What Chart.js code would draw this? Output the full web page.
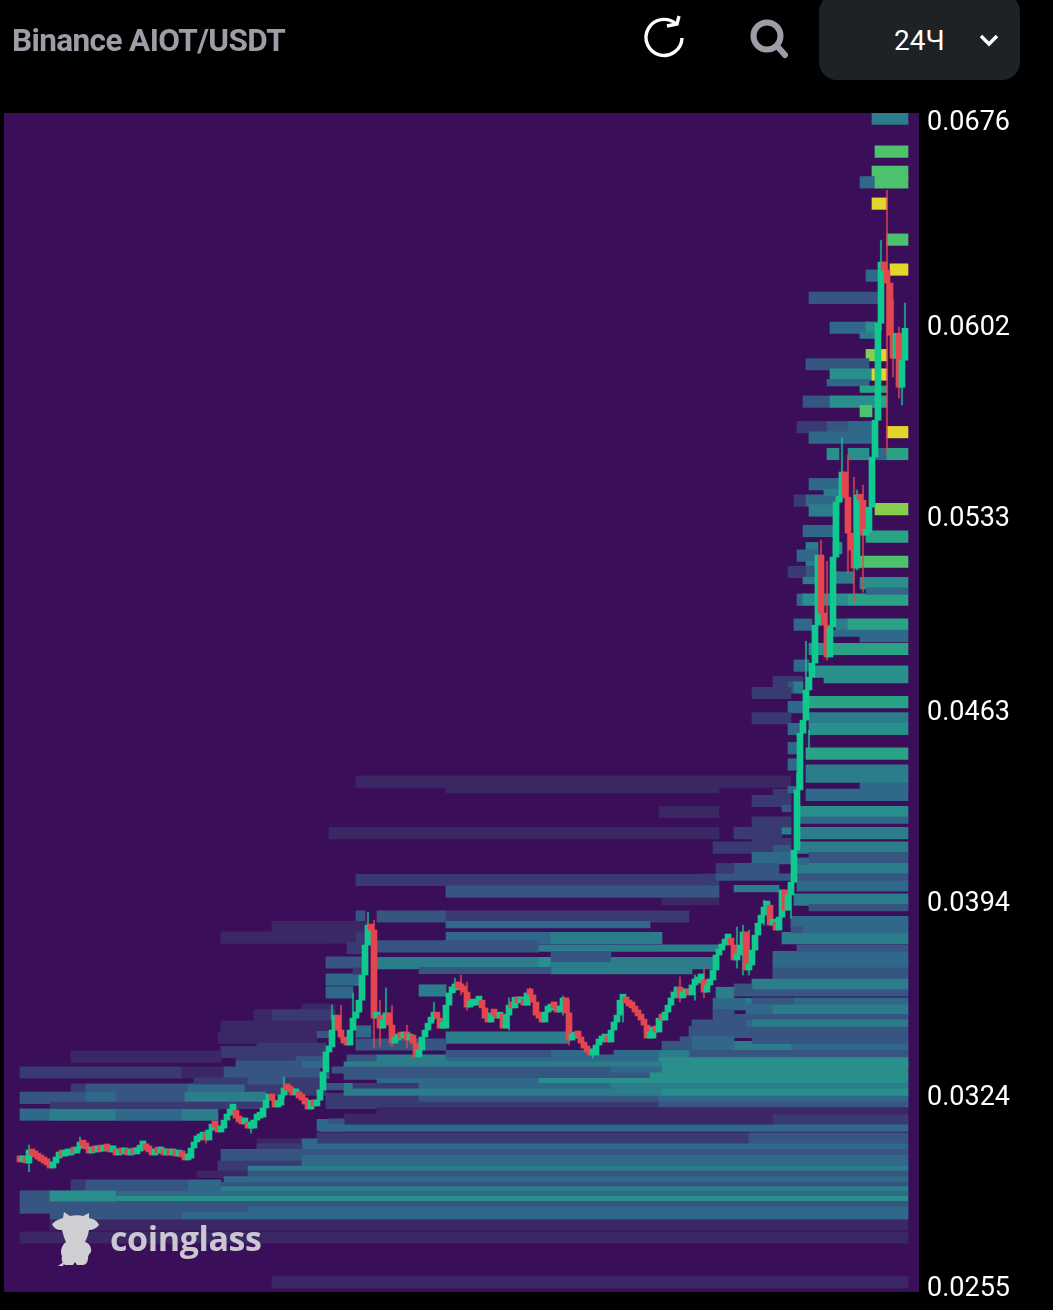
<!DOCTYPE html>
<html>
<head>
  <title>Binance AIOT/USDT</title>
  <script src="https://cdn.jsdelivr.net/npm/chart.js"></script>
  <style>
    html, body { margin: 0; padding: 0; background: #000; width: 1053px; height: 1310px; overflow: hidden; }
    canvas { position: absolute; left: 0; top: 0; }
    .title { position: absolute; left: 12px; top: 23px; font: 700 31.5px/36px Roboto, sans-serif; color: #9d9da8; letter-spacing: -0.6px; white-space: nowrap; }
    .btn { position: absolute; left: 819px; top: -6px; width: 201px; height: 86px; background: #1e2225; border-radius: 18px; }
    .btn span { position: absolute; left: 75px; top: 29px; font: 400 28px/36px Roboto, sans-serif; color: #fff; }
    svg { position: absolute; }
    .brand { position: absolute; left: 110px; top: 1216px; font: 700 34px/44px "Open Sans", sans-serif; color: #c9c7d0; letter-spacing: -0.4px; }
  </style>
</head>
<body>
  <canvas id="heatChart" width="1053" height="1310"></canvas>
  <div class="title">Binance AIOT/USDT</div>
  <svg style="left:640px;top:14px" width="50" height="50" viewBox="0 0 50 50" fill="none" stroke="#fff" stroke-width="3.4">
    <path d="M36 10 A18 18 0 1 0 42 24" /><path d="M27 12 L37 10 L39 2" />
  </svg>
  <svg style="left:745px;top:14px" width="50" height="50" viewBox="0 0 50 50" fill="none" stroke="#9d9da8" stroke-width="6">
    <circle cx="22" cy="22" r="13.5" /><path d="M32 32 L40 41" stroke-linecap="round" />
  </svg>
  <div class="btn"><span>24Ч</span></div>
  <svg style="left:975px;top:28px" width="28" height="24" viewBox="0 0 28 24" fill="none" stroke="#fff" stroke-width="3.4">
    <path d="M6 8 L14 16 L22 8" />
  </svg>
  <svg style="left:50px;top:1210px" width="52" height="58" viewBox="0 0 52 58" fill="#cfced3">
    <path d="M2 14 C6 10 10 9 13 8 L14 2 L20 6 C24 5 30 5 33 6 L39 3 L39 8 C43 9 47 10 49 15 C46 19 42 20 39 20 C38 26 36 30 35 32 C39 33 42 37 41 42 C39 44 38 46 38 48 C38 52 36 55 33 55 L27 55 L25 52 L23 55 L15 55 C12 53 11 50 12 46 C10 42 11 36 16 32 C14 28 13 24 12 20 C8 20 4 19 2 14 Z" />
    <path d="M8 56 L15 51 L13 56 Z" />
  </svg>
  <div class="brand">coinglass</div>

  <script>
    // price axis
    const tickValues = [0.0676, 0.0602, 0.0533, 0.0463, 0.0394, 0.0324, 0.0255];

    // candles, one every 5 minutes or so
    const firstOpen = 0.03019;
    const closes = [
      0.02998,0.03005,0.02994,0.03041,0.03023,0.03016,0.03008,0.03001,0.02994,0.02987,0.02976,0.02994,0.03012,0.03027,0.03019,0.03023,
      0.03023,0.03041,0.03030,0.03048,0.03063,0.03055,0.03045,0.03030,0.03041,0.03034,0.03045,0.03037,0.03055,0.03041,0.03034,0.03037,
      0.03023,0.03037,0.03027,0.03034,0.03023,0.03037,0.03027,0.03037,0.03052,0.03063,0.03041,0.03034,0.03023,0.03041,0.03030,0.03034,
      0.03023,0.03037,0.03023,0.03034,0.03019,0.03030,0.03016,0.03005,0.03012,0.03048,0.03070,0.03077,0.03084,0.03102,0.03077,0.03113,
      0.03131,0.03124,0.03106,0.03120,0.03149,0.03167,0.03185,0.03185,0.03156,0.03142,0.03135,0.03142,0.03120,0.03120,0.03149,0.03156,
      0.03160,0.03193,0.03221,0.03232,0.03221,0.03196,0.03203,0.03240,0.03265,0.03258,0.03250,0.03240,0.03243,0.03229,0.03221,0.03207,
      0.03189,0.03221,0.03200,0.03221,0.03258,0.03323,0.03395,0.03413,0.03474,0.03528,0.03474,0.03449,0.03427,0.03420,0.03474,0.03517,
      0.03539,0.03582,0.03673,0.03781,0.03853,0.03835,0.03517,0.03528,0.03481,0.03510,0.03536,0.03492,0.03427,0.03438,0.03456,0.03445,
      0.03467,0.03438,0.03456,0.03427,0.03377,0.03402,0.03449,0.03474,0.03499,0.03517,0.03536,0.03517,0.03481,0.03481,0.03564,0.03608,
      0.03619,0.03629,0.03626,0.03619,0.03611,0.03557,0.03564,0.03564,0.03575,0.03582,0.03554,0.03517,0.03503,0.03536,0.03528,0.03517,
      0.03532,0.03481,0.03528,0.03564,0.03554,0.03593,0.03572,0.03582,0.03564,0.03608,0.03601,0.03575,0.03528,0.03517,0.03503,0.03539,
      0.03546,0.03564,0.03554,0.03539,0.03561,0.03590,0.03536,0.03438,0.03445,0.03463,0.03449,0.03427,0.03409,0.03395,0.03384,0.03384,
      0.03420,0.03431,0.03438,0.03445,0.03431,0.03474,0.03503,0.03528,0.03582,0.03582,0.03572,0.03561,0.03554,0.03539,0.03525,0.03510,
      0.03492,0.03445,0.03445,0.03485,0.03467,0.03517,0.03510,0.03539,0.03564,0.03590,0.03608,0.03629,0.03590,0.03601,0.03611,0.03601,
      0.03637,0.03644,0.03655,0.03655,0.03611,0.03637,0.03655,0.03691,0.03745,0.03763,0.03781,0.03799,0.03806,0.03781,0.03727,0.03745,
      0.03781,0.03828,0.03691,0.03709,0.03763,0.03817,0.03860,0.03889,0.03918,0.03925,0.03853,0.03864,0.03835,0.03882,0.03980,0.03907,
      0.03962,0.04008,0.04124,0.04341,0.04546,0.04593,0.04702,0.04748,0.04799,0.04936,0.05189,0.04980,0.04936,0.04821,0.04929,0.05182,
      0.05380,0.05398,0.05489,0.05398,0.05268,0.05207,0.05142,0.05406,0.05387,0.05261,0.05272,0.05362,0.05543,0.05676,0.06026,0.06247,
      0.06218,0.06171,0.05983,0.05900,0.05990,0.05795,0.05893,0.06008
    ];

    // only the candles with a wick worth drawing
    const wickIndex = [3,20,62,77,88,104,107,111,116,118,120,122,124,129,138,145,147,149,163,170,181,183,191,201,220,225,228,239,241,243,248,257,259,262,263,267,269,274,276,278,279,281,287,289,291,293,294,295];
    const wickHigh = [0.03059,0.03088,0.03113,0.03149,0.03305,0.03564,0.03564,0.03608,0.03900,0.03871,0.03582,0.03626,0.03564,0.03492,0.03575,0.03662,0.03673,0.03647,0.03590,0.03626,0.03597,0.03582,0.03402,0.03597,0.03666,0.03673,0.03702,0.03846,0.03853,0.03835,0.03943,0.03998,0.04402,0.04878,0.04557,0.05243,0.05167,0.05611,0.05550,0.05470,0.05424,0.05442,0.06326,0.06506,0.06110,0.06012,0.05965,0.06099];
    const wickLow = [0.02962,0.03041,0.03066,0.03102,0.03229,0.03510,0.03438,0.03492,0.03835,0.03409,0.03413,0.03510,0.03416,0.03409,0.03510,0.03611,0.03601,0.03546,0.03474,0.03564,0.03528,0.03420,0.03373,0.03503,0.03575,0.03582,0.03590,0.03698,0.03673,0.03673,0.03853,0.03878,0.04160,0.04593,0.04492,0.04980,0.04810,0.05387,0.05124,0.05019,0.05135,0.05055,0.06001,0.05557,0.05832,0.05756,0.05731,0.05893];

    // heat bands: [price, from candle, to candle, heat 1-10]
    const thickTop = [
      [0.06765,284,296,5],[0.06646,285,296,8],[0.06573,284,296,8],[0.06535,280,285,4],[0.06535,285,296,8],[0.06458,284,289,10],
      [0.06328,289,296,8],[0.06220,290,296,10],[0.06198,282,287,4],[0.06118,263,287,3],[0.06010,270,283,4],[0.06010,282,286,6],
      [0.05911,282,287,9],[0.05911,287,289,10],[0.05878,262,283,3],[0.05841,270,284,6],[0.05841,284,289,10],
      [0.05743,261,270,3],[0.05743,270,285,6],[0.05743,285,289,7],[0.05709,280,284,8],
      [0.05651,259,269,2],[0.05651,269,276,3],[0.05651,276,284,4],[0.05633,289,296,10],[0.05613,263,284,4],
      [0.05554,269,273,6],[0.05554,276,283,6],[0.05554,285,289,4],[0.05554,289,296,7]
    ];
    const thickUpper = [
      [0.05445,263,273,4],[0.05386,258,262,2],[0.05386,262,273,4],[0.05350,263,273,5],[0.05355,285,296,9],[0.05276,261,271,4],
      [0.05256,282,296,7],[0.05214,262,266,5],[0.05214,271,274,6],[0.05187,259,266,4],[0.05165,280,296,8],[0.05146,262,266,5],
      [0.05128,256,262,2],[0.05128,262,266,3],[0.05108,272,278,5],[0.05088,280,296,6],
      [0.05028,259,261,4],[0.05028,261,276,6],[0.05028,276,296,7],[0.04938,258,264,4],[0.04938,272,276,5],[0.04938,276,296,7],
      [0.04850,263,268,6],[0.04850,271,296,7],[0.04790,258,263,4],[0.04768,265,296,6],[0.04730,251,261,2],
      [0.04711,256,258,3],[0.04711,258,261,5],[0.04691,244,257,2],[0.04658,263,296,7],[0.04640,256,261,4],
      [0.04600,244,257,2],[0.04600,263,296,5],[0.04561,256,260,4],[0.04561,263,296,6],[0.04492,256,260,4],[0.04472,262,296,7],
      [0.04433,256,260,4],[0.04411,262,296,5]
    ];
    const thickMiddle = [
      [0.04371,112,257,1],[0.04355,280,296,4],[0.04323,262,296,4],[0.04323,251,257,2],[0.04301,244,257,2],
      [0.04261,260,296,6],[0.04261,213,233,1],[0.04223,244,257,2],[0.04185,260,296,5],[0.04185,238,254,2],[0.04185,103,233,1],
      [0.04133,259,296,5],[0.04133,231,251,2],[0.04133,251,257,3],[0.04095,263,296,3],[0.04095,244,257,4],
      [0.04055,259,296,5],[0.04055,238,253,3],[0.04055,232,238,2],[0.04016,112,233,2],[0.03996,259,296,4],[0.03974,142,233,3],
      [0.03945,258,296,5],[0.03884,112,115,3],[0.03884,119,142,3],[0.03884,142,223,2],[0.03864,257,296,4],
      [0.03846,84,116,1],[0.03808,67,102,1],[0.03808,102,112,1],[0.03808,112,116,2],[0.03806,254,296,5],[0.03806,142,177,4],[0.03806,177,214,5],
      [0.03776,119,173,3],[0.03770,109,116,2],[0.03738,251,296,4],[0.03718,102,116,3],[0.03716,119,173,5],[0.03716,173,177,6],
      [0.03716,177,197,3],[0.03716,197,233,5],[0.03709,251,296,4],[0.03698,177,224,5],[0.03678,251,296,3],[0.03656,102,113,4],
      [0.03637,244,296,5],[0.03620,238,244,3],[0.03617,133,142,5],[0.03610,102,111,4],[0.03608,232,238,5],
      [0.03568,231,242,4],[0.03568,242,244,5],[0.03548,94,105,1],[0.03548,242,251,4],[0.03548,251,296,5]
    ];
    const thickLower = [
      [0.03527,78,84,1],[0.03527,84,105,2],[0.03487,67,105,1],[0.03469,112,117,4],[0.03467,223,296,3],[0.03447,66,99,1],[0.03447,142,183,5],
      [0.03422,112,142,3],[0.03413,257,296,4],[0.03413,238,257,5],[0.03413,224,238,4],[0.03413,214,224,3],
      [0.03395,67,102,2],[0.03378,17,67,1],[0.03364,109,119,3],[0.03364,119,142,5],[0.03364,142,213,4],[0.03364,213,296,6],
      [0.03321,0,54,2],[0.03321,54,68,1],[0.03321,68,100,3],[0.03259,17,22,2],[0.03259,22,56,3],[0.03259,56,75,4],[0.03259,75,102,2],
      [0.03229,0,22,3],[0.03229,22,32,4],[0.03229,32,55,3],[0.03229,55,82,5],[0.03225,102,133,2],[0.03225,133,213,3],[0.03225,213,296,4],
      [0.03169,0,10,4],[0.03169,10,32,5],[0.03169,32,54,4],[0.03169,54,66,5],[0.03151,108,251,1],[0.03151,251,296,2],[0.03131,99,108,4]
    ];
    const thickBase = [
      [0.03082,99,243,2],[0.03082,243,296,3],[0.03061,79,94,1],[0.03061,94,99,4],
      [0.02913,17,22,2],[0.02913,22,56,3],[0.02913,56,67,4],[0.02873,0,10,3],[0.02873,10,32,6],[0.02833,0,10,3],[0.02833,10,32,3],
      [0.02772,10,296,1],[0.02725,0,296,1],[0.02563,84,296,1]
    ];

    const thinUpper = [
      [0.05983,280,285,5],[0.05812,269,283,4],[0.05788,280,289,7],[0.05415,268,273,5],[0.05097,261,266,5],[0.05059,282,296,4],
      [0.04907,271,296,4],[0.04887,280,296,4],[0.04739,268,296,6],[0.04380,262,296,5],[0.04342,142,233,1],[0.04342,256,259,4],
      [0.04274,254,257,3],[0.04232,260,296,4],[0.04193,254,257,5],[0.04155,244,257,2],[0.04084,259,263,4],
      [0.04026,259,296,3],[0.04026,227,232,2],[0.04026,232,257,3],[0.03985,238,253,5],[0.03938,214,233,1],[0.03916,263,296,3]
    ];
    const thinMiddle = [
      [0.03855,142,210,4],[0.03837,257,261,3],[0.03837,261,296,4],[0.03770,259,296,3],[0.03770,173,233,5],[0.03747,177,197,3],
      [0.03689,133,177,3],[0.03687,111,116,2],[0.03608,238,296,3],[0.03579,244,258,3],[0.03579,258,296,4],[0.03537,231,238,3],
      [0.03519,231,296,3],[0.03499,244,296,5],[0.03499,242,244,4],[0.03499,224,242,3],[0.03458,99,104,3],[0.03415,79,102,2]
    ];
    const thinLower = [
      [0.03438,244,296,3],[0.03438,220,224,3],[0.03438,224,238,4],
      [0.03389,223,296,3],[0.03389,142,177,3],[0.03389,177,189,4],[0.03389,198,213,4],[0.03389,213,223,5],
      [0.03368,72,92,2],[0.03368,92,102,3],[0.03350,72,94,3],[0.03350,94,102,4],
      [0.03348,108,214,5],[0.03348,214,296,6],[0.03330,104,197,3],[0.03330,197,214,4],[0.03330,214,296,6],
      [0.03310,72,103,3],[0.03308,108,210,3],[0.03308,210,296,6],
      [0.03290,58,76,2],[0.03290,76,88,3],[0.03290,88,102,2],[0.03288,119,173,4],[0.03288,173,296,6],
      [0.03270,102,108,3],[0.03270,108,111,5],[0.03270,111,133,2],[0.03270,133,197,4],[0.03270,197,296,5],
      [0.03250,108,142,5],[0.03250,142,214,5],[0.03250,214,296,6],[0.03202,10,82,2],[0.03202,102,213,2],[0.03202,213,296,3],
      [0.03182,119,296,1],[0.03142,103,108,3],[0.03120,100,296,4]
    ];
    const thinBase = [
      [0.03052,94,296,4],[0.03052,79,94,2],[0.03032,67,296,3],[0.03010,67,94,3],[0.03010,94,296,4],
      [0.02989,66,94,2],[0.02989,94,296,4],[0.02971,66,76,2],[0.02971,76,296,5],[0.02953,59,76,1],[0.02953,76,296,3],
      [0.02933,68,296,4],[0.02913,67,296,3],[0.02897,67,296,5],[0.02880,32,296,4],[0.02862,32,296,6],
      [0.02844,32,296,3],[0.02824,32,76,3],[0.02824,76,296,4],[0.02803,10,54,3],[0.02803,54,296,4]
    ];

    // colours for the heat steps, and the plot background
    const heatColors = ['#3b0e5a', '#3a2763', '#3a3a73', '#365580', '#30688a', '#2b7d8b', '#288f8c', '#2aa286', '#4cc26c', '#85cf4c', '#e3d52c'];
    const upColor = '#10c98f';
    const downColor = '#e4464f';

    const opens = [firstOpen, ...closes.slice(0, -1)];
    const candleColors = closes.map((c, i) => c >= opens[i] ? upColor : downColor);

    const bandData = list => list.map(b => ({ y: b[0], x: [b[1], b[2]] }));
    const bandColors = list => list.map(b => heatColors[b[3]]);

    const thickBands = [...thickTop, ...thickUpper, ...thickMiddle, ...thickLower, ...thickBase];
    const thinBands = [...thinUpper, ...thinMiddle, ...thinLower, ...thinBase];

    const plotBackground = {
      id: 'plotBackground',
      beforeDraw(chart) {
        const a = chart.chartArea;
        chart.ctx.fillStyle = heatColors[0];
        chart.ctx.fillRect(a.left, a.top, a.width, a.height);
      }
    };

    new Chart(document.getElementById('heatChart'), {
      type: 'bar',
      plugins: [plotBackground],
      data: {
        datasets: [
          {
            label: 'candles',
            order: 1,
            grouped: false,
            barThickness: 6,
            minBarLength: 6,
            data: closes.map((c, i) => ({ x: i, y: [opens[i], c] })),
            backgroundColor: candleColors
          },
          {
            label: 'wicks',
            order: 2,
            grouped: false,
            barThickness: 1.5,
            data: wickIndex.map((n, i) => ({ x: n, y: [wickLow[i], wickHigh[i]] })),
            backgroundColor: wickIndex.map(n => candleColors[n] + 'b0')
          },
          {
            label: 'thin bands',
            order: 3,
            indexAxis: 'y',
            grouped: false,
            barThickness: 6.5,
            data: bandData(thinBands),
            backgroundColor: bandColors(thinBands)
          },
          {
            label: 'thick bands',
            order: 4,
            indexAxis: 'y',
            grouped: false,
            barThickness: 11.5,
            data: bandData(thickBands),
            backgroundColor: bandColors(thickBands)
          }
        ]
      },
      options: {
        responsive: false,
        animation: false,
        layout: { padding: { left: 4, top: 113, right: 0, bottom: 18 } },
        plugins: { legend: { display: false }, tooltip: { enabled: false } },
        scales: {
          x: { type: 'linear', display: false, offset: false, min: -5.33, max: 299.67, grid: { display: false } },
          y: {
            type: 'linear',
            position: 'right',
            offset: false,
            min: 0.025283,
            max: 0.067853,
            border: { display: false },
            grid: { display: false, drawTicks: false },
            afterBuildTicks: axis => { axis.ticks = tickValues.map(v => ({ value: v })); },
            afterFit: axis => { axis.width = 134; axis.paddingTop = 0; axis.paddingBottom = 0; },
            ticks: {
              padding: 8,
              labelOffset: 3.5,
              color: '#fff',
              autoSkip: false,
              font: { family: 'Roboto', size: 27 },
              callback: v => v.toFixed(4)
            }
          }
        }
      }
    });
  </script>
</body>
</html>
